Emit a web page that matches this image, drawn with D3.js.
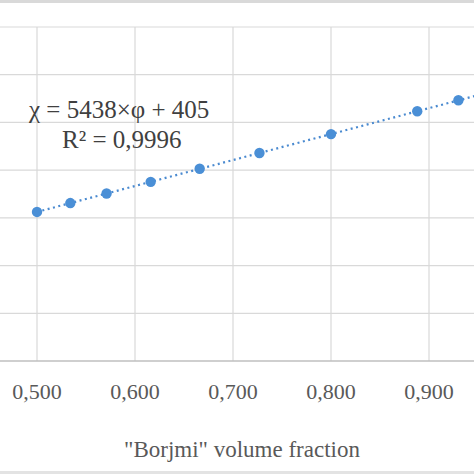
<!DOCTYPE html>
<html><head><meta charset="utf-8">
<script src="https://cdn.jsdelivr.net/npm/d3@7"></script>
<style>body{margin:0;background:#fff} text{font-family:"Liberation Serif","DejaVu Serif",serif}</style>
</head><body>
<script>
const phi = [0.500, 0.534, 0.571, 0.616, 0.666, 0.727, 0.800, 0.888, 0.930];
const chi = [3124, 3310, 3510, 3755, 4030, 4360, 4755, 5235, 5465];
const xTicks = [0.5, 0.6, 0.7, 0.8, 0.9];
const yTicks = [0, 1000, 2000, 3000, 4000, 5000, 6000, 7000];
const slope = 5438, intercept = 405;

const W = 474, H = 474;
const svg = d3.select("body").append("svg").attr("width", W).attr("height", H);
const x = d3.scaleLinear().domain([0.5, 0.9]).range([37, 429]);
const y = d3.scaleLinear().domain([0, 7000]).range([361, 27]);

// frame lines at top/bottom
svg.append("rect").attr("x", 0).attr("y", 0).attr("width", W).attr("height", 3).attr("fill", "#d9d9d9");
svg.append("rect").attr("x", 0).attr("y", 471).attr("width", W).attr("height", 3).attr("fill", "#e3e3e3");

// grid
svg.selectAll(".hg").data(yTicks.slice(1)).enter().append("line")
  .attr("x1", 0).attr("x2", W).attr("y1", d => y(d)).attr("y2", d => y(d))
  .attr("stroke", "#d9d9d9").attr("stroke-width", 1.2);
svg.selectAll(".vg").data(xTicks).enter().append("line")
  .attr("x1", d => x(d)).attr("x2", d => x(d)).attr("y1", y(7000)).attr("y2", y(0))
  .attr("stroke", "#d9d9d9").attr("stroke-width", 1.2);
svg.append("line").attr("x1", 0).attr("x2", W).attr("y1", y(0)).attr("y2", y(0))
  .attr("stroke", "#bfbfbf").attr("stroke-width", 1.3);

// tick labels
svg.selectAll(".xt").data(xTicks).enter().append("text")
  .attr("x", d => x(d)).attr("y", 399).attr("text-anchor", "middle")
  .attr("font-size", 22).attr("fill", "#595959")
  .text(d => d3.format(".3f")(d).replace(".", ","));
svg.append("text").attr("x", 242).attr("y", 457).attr("text-anchor", "middle")
  .attr("font-size", 23).attr("fill", "#595959")
  .text('"Borjmi" volume fraction');

// trendline
const tl = [0.5, 0.98];
svg.append("line")
  .attr("x1", x(tl[0])).attr("y1", y(slope * tl[0] + intercept))
  .attr("x2", x(tl[1])).attr("y2", y(slope * tl[1] + intercept))
  .attr("stroke", "#4a8ad0").attr("stroke-width", 2.2).attr("stroke-dasharray", "2,3.5");

// points
svg.selectAll(".pt").data(phi).enter().append("circle")
  .attr("cx", d => x(d)).attr("cy", (d, i) => y(chi[i])).attr("r", 5.2).attr("fill", "#4a8fd6");

// equation
svg.append("text").attr("x", 29).attr("y", 118).attr("font-size", 25)
  .attr("fill", "#404040").text("χ = 5438×φ + 405");
svg.append("text").attr("x", 62).attr("y", 148).attr("font-size", 25)
  .attr("fill", "#404040").text("R² = 0,9996");
</script>
</body></html>
